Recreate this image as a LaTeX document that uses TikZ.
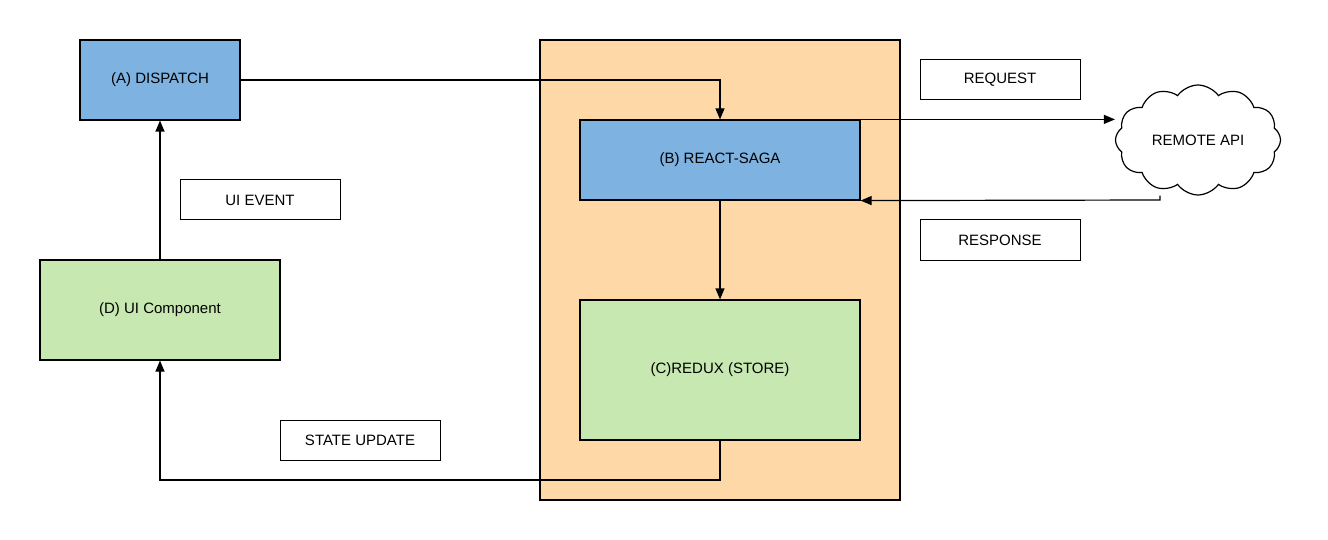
\documentclass[tikz,border=0pt]{standalone}
\usepackage{fontspec}
\setmainfont{Liberation Sans}
\usetikzlibrary{shapes.symbols,arrows.meta}
\definecolor{bl}{HTML}{7EB3E1}
\definecolor{gr}{HTML}{C7E8B0}
\definecolor{or}{HTML}{FFD8A8}
\begin{document}
\begin{tikzpicture}[x=1pt,y=-1pt,font=\fontsize{15}{18}\selectfont,
 box/.style={draw,line width=1.2pt,minimum width=#1,inner sep=0pt},
 lab/.style={draw,line width=1pt,fill=white,minimum width=160pt,minimum height=40pt,inner sep=0pt},
 arr/.style={draw,line width=1.2pt,-{Triangle[length=11pt,width=9pt]}}]
\useasboundingbox (0,0) rectangle (1328,540);
\node[draw,line width=1.2pt,fill=or,minimum width=360pt,minimum height=460pt] (O) at (720,270) {};
\node[box=160pt,fill=bl,minimum height=80pt] (A) at (160,80) {(A) DISPATCH};
\node[box=280pt,fill=bl,minimum height=80pt] (B) at (720,160) {(B) REACT-SAGA};
\node[box=280pt,fill=gr,minimum height=140pt] (C) at (720,370) {(C)REDUX (STORE)};
\node[box=240pt,fill=gr,minimum height=100pt] (D) at (160,310) {(D) UI Component};
\node[lab] (L1) at (1000,80) {REQUEST};
\node[lab] (L2) at (260,200) {UI EVENT};
\node[lab] (L3) at (1000,240) {RESPONSE};
\node[lab] (L4) at (360,440) {STATE UPDATE};
\node[cloud,draw,line width=1.2pt,cloud puffs=12,cloud puff arc=110,aspect=1.5,minimum width=165pt,minimum height=110pt,inner sep=0pt] (R) at (1198,140) {REMOTE API};
\coordinate (a1) at (720,80);
\coordinate (c1) at (720,480);
\coordinate (c2) at (160,480);
\coordinate (r1) at (1160,200);
\path[arr] (A.east) -- (a1) -- (B.north);
\path[arr] (B.north east) -- (R.west |- B.north east);
\path[arr] (r1 |- R.south) -- (r1) -- (B.south east);
\path[arr] (B.south) -- (C.north);
\path[arr] (C.south) -- (c1) -- (c2) -- (D.south);
\path[arr] (D.north) -- (A.south);
\end{tikzpicture}
\end{document}
